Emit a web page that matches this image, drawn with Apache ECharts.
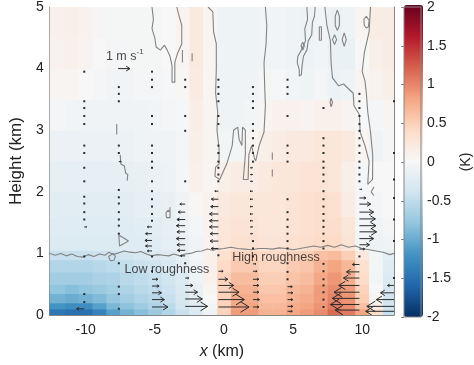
<!DOCTYPE html>
<html><head><meta charset="utf-8">
<script src="https://cdn.jsdelivr.net/npm/echarts@6/dist/echarts.min.js"></script>
<style>html,body{margin:0;padding:0;background:#fff}#c{width:474px;height:365px}</style>
</head><body><div id="c"></div>
<script>
// ---------- heat field (K): rows bottom->top, columns centred at x=-12..12 km ----------
const xEdges = [-12.6,-11.5,-10.5,-9.5,-8.5,-7.5,-6.5,-5.5,-4.5,-3.5,-2.5,-1.5,-0.5,0.5,1.5,2.5,3.5,4.5,5.5,6.5,7.5,8.5,9.5,10.5,11.5,12.3];
const yEdges = [0,0.1,0.2,0.35,0.5,0.7,0.9,1.05,1.3,1.6,2.0,2.5,3.0,3.5,4.0,4.5,5.0];
const tempRows = [
 [-1.45,-1.5,-1.5,-1.35,-1.1,-0.95,-0.85,-0.75,-0.6,-0.45,-0.3,-0.1,0.45,0.85,0.85,0.7,0.7,0.8,0.85,0.95,1.15,1.05,0.8,0.35,-0.45],
 [-1.2,-1.25,-1.25,-1.1,-0.92,-0.82,-0.72,-0.62,-0.52,-0.38,-0.24,-0.05,0.45,0.8,0.8,0.65,0.65,0.75,0.8,0.9,1.05,0.95,0.6,0.15,-0.4],
 [-0.95,-1.0,-0.95,-0.88,-0.78,-0.7,-0.62,-0.56,-0.46,-0.33,-0.18,0.0,0.45,0.75,0.75,0.6,0.6,0.7,0.75,0.85,1.0,0.9,0.5,0.05,-0.4],
 [-0.8,-0.85,-0.8,-0.75,-0.68,-0.62,-0.55,-0.5,-0.42,-0.3,-0.15,0.05,0.45,0.7,0.7,0.55,0.55,0.65,0.7,0.85,0.95,0.85,0.45,0.0,-0.35],
 [-0.7,-0.7,-0.7,-0.65,-0.62,-0.55,-0.5,-0.45,-0.38,-0.28,-0.1,0.1,0.45,0.62,0.62,0.5,0.5,0.58,0.62,0.78,0.88,0.72,0.38,-0.05,-0.3],
 [-0.6,-0.6,-0.6,-0.56,-0.52,-0.48,-0.44,-0.4,-0.32,-0.22,-0.08,0.1,0.4,0.52,0.52,0.44,0.44,0.52,0.56,0.7,0.8,0.66,0.32,-0.05,-0.25],
 [-0.45,-0.45,-0.45,-0.42,-0.42,-0.38,-0.34,-0.3,-0.26,-0.18,-0.05,0.1,0.32,0.45,0.45,0.4,0.4,0.45,0.5,0.6,0.64,0.5,0.22,-0.05,-0.2],
 [-0.28,-0.28,-0.28,-0.28,-0.28,-0.25,-0.25,-0.25,-0.2,-0.15,-0.08,0.08,0.25,0.32,0.32,0.28,0.28,0.32,0.36,0.4,0.4,0.28,-0.05,-0.12,-0.08],
 [-0.25,-0.25,-0.25,-0.25,-0.25,-0.25,-0.22,-0.22,-0.18,-0.12,-0.04,0.08,0.24,0.28,0.28,0.25,0.25,0.28,0.32,0.36,0.36,0.24,-0.04,-0.08,-0.04],
 [-0.22,-0.22,-0.22,-0.22,-0.22,-0.22,-0.18,-0.18,-0.16,-0.08,0.02,0.08,0.2,0.24,0.24,0.24,0.25,0.28,0.32,0.36,0.32,0.16,-0.04,-0.04,0.0],
 [-0.18,-0.18,-0.18,-0.18,-0.18,-0.18,-0.16,-0.13,-0.12,-0.04,0.1,0.04,0.12,0.16,0.16,0.2,0.24,0.24,0.28,0.28,0.24,0.12,-0.04,0.0,0.0],
 [-0.13,-0.13,-0.13,-0.13,-0.13,-0.13,-0.1,-0.08,-0.08,-0.04,0.12,0.04,-0.05,-0.05,0.04,0.12,0.16,0.2,0.2,0.24,0.24,0.2,0.04,-0.08,-0.04],
 [-0.04,-0.06,-0.08,-0.08,-0.08,-0.08,-0.08,-0.06,-0.04,-0.02,0.15,0.04,-0.08,-0.1,-0.05,0.04,0.08,0.08,0.06,0.1,0.1,0.06,0.0,-0.04,0.04],
 [0.05,0.05,0.0,-0.04,-0.06,-0.06,-0.04,-0.04,-0.02,0.02,0.18,0.04,-0.1,-0.1,-0.08,-0.03,-0.02,-0.06,-0.1,-0.04,-0.12,-0.1,0.04,0.08,0.12],
 [0.08,0.1,0.06,0.0,-0.04,-0.04,-0.03,-0.03,0.0,0.04,0.2,0.04,-0.1,-0.1,-0.1,-0.06,-0.06,-0.1,-0.12,-0.06,-0.14,-0.14,0.0,0.12,0.16],
 [0.1,0.12,0.08,0.03,-0.03,-0.04,-0.03,-0.03,0.0,0.06,0.2,0.04,-0.1,-0.1,-0.1,-0.06,-0.06,-0.1,-0.12,-0.06,-0.14,-0.1,0.04,0.16,0.16]
];

// ---------- wind profiles: column x (km) and [height km, u m/s] ----------
const colX = [-10.1,-7.6,-5.2,-2.8,-0.4,2.1,4.6,7.2,9.8,12.3];
const windCols = [
 [[3.95,0.1],[3.47,0.05],[3.36,0.15],[3.23,0.1],[3.1,0.05],[2.75,0.05],[2.63,0.05],[2.39,0.05],[2.17,0.05],[1.92,0.05],[1.81,0.05],[1.67,0.05],[1.55,0.05],[1.43,0.2],[0.95,0.05],[0.34,0.05],[0.21,0.05],[0.1,-0.65]],
 [[3.7,0.05],[3.59,0.05],[3.47,0.05],[2.75,0.05],[2.63,0.05],[2.49,0.2],[2.03,0.05],[1.91,0.05],[1.81,0.05],[1.67,0.05],[1.55,0.05],[1.45,0.1],[1.32,0.1],[0.84,0.05],[0.46,0.05],[0.34,0.05],[0.1,0.05]],
 [[3.95,0.05],[3.82,0.15],[3.7,0.05],[3.23,0.05],[3.1,0.05],[2.75,0.05],[2.63,0.1],[2.49,0.05],[2.39,0.05],[2.17,0.05],[2.01,0.05],[1.88,0.05],[1.76,0.05],[1.64,0.05],[1.53,0.05],[1.43,-0.4],[1.32,-0.55],[1.21,-0.6],[1.12,-0.55],[1.04,-0.4],[0.95,-0.1],[0.71,0.05],[0.58,0.5],[0.47,0.6],[0.36,0.8],[0.25,1.05],[0.13,1.35]],
 [[3.82,0.05],[3.7,0.15],[3.23,0.05],[2.99,0.05],[2.17,0.05],[1.8,-0.45],[1.67,-0.6],[1.55,-0.7],[1.45,-0.75],[1.35,-0.7],[1.24,-0.75],[1.14,-0.7],[1.05,-0.65],[0.96,-0.4],[0.84,0.05],[0.6,0.3],[0.48,0.65],[0.37,1.05],[0.26,1.45],[0.14,1.9]],
 [[3.82,0.05],[3.7,0.05],[3.59,0.05],[3.47,0.05],[3.23,0.1],[3.1,0.05],[2.75,0.05],[2.63,0.05],[2.49,0.05],[2.39,-0.1],[2.28,-0.1],[2.17,-0.15],[2.01,-0.3],[1.88,-0.6],[1.76,-0.65],[1.64,-0.75],[1.53,-0.75],[1.43,-0.75],[1.32,-0.7],[1.2,-0.7],[1.08,-0.6],[0.97,-0.1],[0.71,0.4],[0.58,0.8],[0.48,1.3],[0.37,1.75],[0.25,2.2],[0.13,2.6]],
 [[3.7,0.05],[3.59,0.05],[3.47,0.05],[3.36,0.05],[3.1,0.05],[2.99,-0.1],[2.87,-0.1],[2.75,-0.1],[2.63,-0.15],[2.49,-0.15],[2.39,-0.2],[2.28,-0.2],[2.17,-0.2],[2.01,-0.25],[1.88,-0.25],[1.76,-0.25],[1.64,-0.25],[1.53,-0.25],[1.43,-0.2],[1.32,-0.2],[1.2,-0.15],[1.08,-0.1],[0.95,0.05],[0.83,0.25],[0.71,0.35],[0.58,0.5],[0.48,0.5],[0.37,0.5],[0.25,0.55],[0.13,0.5]],
 [[3.82,0.1],[3.7,0.1],[3.59,0.1],[3.23,0.05],[2.75,0.1],[2.63,0.1],[2.49,0.1],[1.88,0.05],[1.67,0.05],[1.55,0.05],[1.43,0.05],[1.32,-0.1],[1.2,-0.15],[1.08,-0.1],[0.84,0.05],[0.7,0.05],[0.58,0.1],[0.46,0.4],[0.36,0.45],[0.25,0.45],[0.14,0.45],[0.06,0.4]],
 [[3.36,0.05],[2.87,0.05],[2.75,0.05],[2.63,0.05],[2.49,0.05],[2.39,0.05],[2.28,0.05],[2.17,0.05],[2.01,0.05],[1.88,0.05],[1.76,0.05],[1.64,-0.1],[1.53,-0.05],[1.43,-0.1],[1.32,0.05],[1.2,0.05],[1.08,0.05],[0.83,0.05],[0.71,0.05],[0.58,0.05],[0.48,0.05],[0.37,0.05],[0.25,0.05],[0.13,0.05]],
 [[3.59,0.05],[3.47,0.05],[3.36,0.05],[3.23,0.05],[3.1,0.1],[2.99,0.1],[2.87,0.1],[2.75,0.1],[2.63,0.1],[2.49,0.1],[2.39,0.1],[2.28,0.1],[2.17,0.1],[2.04,0.2],[1.9,0.55],[1.8,0.95],[1.67,1.2],[1.56,1.35],[1.45,1.4],[1.35,1.45],[1.24,1.2],[1.14,0.85],[1.07,0.45],[0.95,0.05],[0.82,-0.6],[0.7,-1.1],[0.6,-1.35],[0.48,-1.75],[0.37,-2.15],[0.27,-2.3],[0.17,-2.45],[0.08,-2.05]],
 [[3.47,0.05],[2.63,0.05],[2.2,0.05],[1.9,0.05],[1.55,0.05],[1.2,0.05],[0.6,-0.05],[0.48,-0.55],[0.36,-1.15],[0.25,-1.5],[0.14,-2.3],[0.06,-2.4]]
];
const keyArrow = [-7.65, 4.0, 1.0];   // 1 m s-1 reference arrow

// ---------- grey contour lines (x km, height km) ----------
const pblLine = [[-12.6,1.0],[-12.2,0.97],[-11.8,1.0],[-11.4,0.96],[-11.0,0.99],[-10.6,0.95],[-10.2,0.94],[-9.8,0.98],[-9.4,0.95],[-9.0,0.99],[-8.6,0.97],[-8.3,1.02],[-8.0,0.98],[-7.6,1.01],[-7.2,1.04],[-6.8,1.02],[-6.4,1.01],[-6.0,1.03],[-5.6,0.99],[-5.2,0.96],[-4.8,0.98],[-4.4,0.97],[-4.0,0.96],[-3.6,0.99],[-3.2,0.96],[-2.8,0.99],[-2.4,1.0],[-2.0,1.03],[-1.6,1.04],[-1.2,1.07],[-0.8,1.05],[-0.4,1.07],[0.0,1.08],[0.5,1.1],[1.0,1.08],[1.5,1.07],[2.0,1.06],[2.5,1.08],[3.0,1.08],[3.5,1.07],[4.0,1.09],[4.5,1.08],[5.0,1.06],[5.5,1.08],[6.0,1.1],[6.5,1.12],[7.0,1.1],[7.5,1.13],[8.0,1.1],[8.5,1.14],[9.0,1.1],[9.5,1.12],[10.0,1.08],[10.5,1.06],[11.0,1.04],[11.5,1.02],[12.0,0.98],[12.3,1.0]];
const loopA = [[-8.35,0.95],[-8.2,0.88],[-7.95,0.89],[-7.85,0.95],[-8.0,1.0],[-8.35,0.95]];
const triA = [[-7.6,1.3],[-7.55,1.12],[-6.9,1.2],[-7.6,1.3]];
const wigA = [[-7.5,2.6],[-7.45,2.45],[-7.2,2.42],[-7.1,2.3],[-6.95,2.28],[-7.0,2.18]];
const loopB = [[-3.9,1.75],[-3.9,1.58],[-4.15,1.58],[-4.2,1.66],[-4.05,1.7],[-3.9,1.68]];
const contour1 = [[-5.2,5.0],[-5.1,4.8],[-5.2,4.65],[-5.0,4.5],[-4.9,4.35],[-4.6,4.3],[-4.3,4.38],[-4.1,4.3],[-3.9,4.2],[-3.75,4.05],[-3.75,3.78],[-3.55,3.78],[-3.55,4.1],[-3.35,4.25],[-3.05,4.4],[-3.05,4.7],[-3.3,4.9],[-3.4,5.0]];
const contour2 = [[-1.15,5.0],[-0.8,4.92],[-0.75,4.6],[-0.55,4.4],[-0.55,4.0],[-0.6,3.6],[-0.45,3.3],[-0.5,3.0],[-0.35,2.7],[-0.35,2.45],[-0.6,2.4],[-0.65,2.25],[-0.3,2.2],[-0.1,2.3],[0.2,2.45],[0.4,2.6],[0.6,2.75],[0.7,3.0],[1.0,3.05],[1.1,2.85],[1.3,2.75],[1.35,3.05],[1.55,3.0],[1.55,2.6],[1.4,2.2],[1.75,2.2],[1.8,2.6],[2.0,2.75],[2.2,2.55],[2.3,2.5],[2.55,2.75],[2.9,2.97],[3.0,3.4],[2.95,3.7],[2.9,4.1],[3.05,4.4],[3.1,4.7],[3.0,5.0]];
const contour3 = [[6.0,5.0],[6.05,4.8],[5.85,4.65],[5.9,4.45],[5.6,4.3],[5.35,4.2],[5.3,4.1],[5.45,3.98],[5.45,3.88],[5.6,3.9],[5.65,4.04],[5.75,4.2],[6.0,4.3],[6.1,4.45],[6.35,4.55],[6.4,4.75],[6.55,4.85],[6.6,5.0]];
const contour4 = [[7.3,5.0],[7.45,4.7],[7.7,4.45],[7.75,4.1],[7.85,3.85],[8.3,3.72],[8.65,3.75],[9.35,3.6],[9.4,3.4],[9.8,3.25],[9.85,2.97],[10.2,2.75],[10.5,2.49],[10.4,2.12],[10.75,2.2],[10.76,2.6],[10.6,2.97],[10.4,3.3],[10.3,3.6],[10.2,3.8],[10.0,3.95],[10.15,4.25],[10.5,4.6],[10.6,5.0]];
const ovalA = [[8.2,4.95],[8.35,4.85],[8.35,4.7],[8.2,4.62],[8.05,4.7],[8.05,4.85],[8.2,4.95]];
const ovalB = [[8.0,4.55],[8.15,4.47],[8.0,4.39],[7.85,4.47],[8.0,4.55]];
const ovalC = [[8.7,4.58],[8.85,4.47],[8.7,4.36],[8.55,4.47],[8.7,4.58]];
const ovalD = [[10.3,4.85],[10.5,4.78],[10.45,4.68],[10.3,4.66],[10.15,4.7],[10.12,4.8],[10.3,4.85]];
const rectE = [[6.9,4.68],[7.05,4.68],[7.05,4.46],[6.9,4.46],[6.9,4.68]];
const ovalF = [[5.7,4.43],[5.82,4.37],[5.7,4.3],[5.58,4.37],[5.7,4.43]];
const ovalG = [[7.75,3.52],[7.85,3.45],[7.75,3.38],[7.68,3.45],[7.75,3.52]];
const triB = [[10.85,2.08],[10.65,2.0],[10.85,1.94]];
const segs = [[[-7.75,2.93],[-7.75,3.1]],[[-3.0,4.1],[-3.0,4.3]],[[-2.3,4.12],[-2.3,4.25]],[[3.5,2.52],[3.5,2.64]],[[3.5,2.25],[3.5,2.36]]];
const contourLines = [pblLine,loopA,triA,wigA,loopB,contour1,contour2,contour3,contour4,ovalA,ovalB,ovalC,ovalD,rectE,ovalF,ovalG,triB].concat(segs);

// ---------- labels ----------
const annotations = [
  {pos:[-7.17,4.2], text:'{a|1 m s}{s|-1}'},
  {pos:[-4.12,0.73], text:'{a|Low roughness}'},
  {pos:[3.76,0.93], text:'{a|High roughness}'}
];
const cbarTicks = {min:-2, max:2, step:0.5};
const rdbu = ['#053061','#2166ac','#4393c3','#92c5de','#d1e5f0','#f7f7f7','#fddbc7','#f4a582','#d6604d','#b2182b','#67001f'];

// ---------- build ----------
const cells = [];
tempRows.forEach((row, j) => row.forEach((v, i) => cells.push([xEdges[i], xEdges[i+1], yEdges[j], yEdges[j+1], v])));
const arrows = [];
windCols.forEach((col, k) => col.forEach(p => arrows.push([colX[k], p[0], p[1]])));
const ARROW_KM_PER_MS = 0.854;
const FONT = 'Liberation Sans, Arial, sans-serif';
const frameColor = '#858585';

function renderCell(params, api) {
  const a = api.coord([api.value(0), api.value(3)]);
  const b = api.coord([api.value(1), api.value(2)]);
  const r = echarts.graphic.clipRectByRect(
    {x: a[0], y: a[1], width: b[0]-a[0]+0.6, height: b[1]-a[1]+0.6},
    {x: params.coordSys.x, y: params.coordSys.y, width: params.coordSys.width, height: params.coordSys.height});
  return r && {type:'rect', shape:r, style:{fill: api.visual('color')}};
}
function renderArrow(params, api) {
  const x = api.value(0), h = api.value(1), u = api.value(2);
  const p0 = api.coord([x, h]);
  const p1 = api.coord([x + u*ARROW_KM_PER_MS, h]);
  const L = Math.abs(p1[0]-p0[0]);
  const col = '#2b2b2b';
  if (L < 2.2) {
    return {type:'rect', shape:{x:p0[0]-1, y:p0[1]-1, width:2, height:2}, style:{fill:col}};
  }
  const dir = u > 0 ? 1 : -1;
  const hl = Math.min(0.32*L, 8.5), hw = hl*0.62;
  const st = {stroke:col, lineWidth:1, fill:null};
  return {type:'group', children:[
    {type:'line', shape:{x1:p0[0], y1:p0[1], x2:p1[0], y2:p1[1]}, style:st},
    {type:'polyline', shape:{points:[[p1[0]-dir*hl, p1[1]-hw],[p1[0],p1[1]],[p1[0]-dir*hl, p1[1]+hw]]}, style:st}
  ]};
}

const chart = echarts.init(document.getElementById('c'), null, {renderer:'canvas'});
const series = [
  {type:'custom', xAxisIndex:0, yAxisIndex:0, data:cells, renderItem:renderCell, encode:{x:[0,1], y:[2,3]}, clip:true, silent:true, z:1},
];
contourLines.forEach(line => series.push({type:'line', xAxisIndex:0, yAxisIndex:0, data:line, symbol:'none', silent:true, clip:true,
  lineStyle:{color:'#838383', width:1.1}, z:3}));
series.push({type:'custom', xAxisIndex:0, yAxisIndex:0, data:arrows.concat([keyArrow]), renderItem:renderArrow, encode:{x:0, y:1}, clip:true, silent:true, z:5});
series.push({type:'scatter', xAxisIndex:0, yAxisIndex:0, symbolSize:0, silent:true, z:6,
  data: annotations.map(a => ({value:a.pos, label:{show:true, position:'inside', formatter:a.text}})),
  label:{show:true, rich:{a:{fontSize:12.5, fontFamily:FONT, color:'#1a1a1a'}, s:{fontSize:8, fontFamily:FONT, color:'#1a1a1a', padding:[0,0,8,0]}}}});

const option = {
  animation:false,
  textStyle:{fontFamily:FONT},
  grid:[
    {left:35, top:5, width:359, height:312, show:false},
    {left:404, top:5, width:19, height:312, show:true, borderColor:frameColor, borderWidth:1, backgroundColor:'transparent', z:10}
  ],
  xAxis:[
    {type:'value', gridIndex:0, min:-12.6, max:12.3, position:'bottom',
     axisLine:{show:true, onZero:false, lineStyle:{color:frameColor}}, axisTick:{inside:true, length:4, lineStyle:{color:frameColor}},
     splitLine:{show:false}, axisLabel:{fontSize:14, color:'#222', showMinLabel:false, showMaxLabel:false, margin:8},
     name:'{i|x} (km)', nameLocation:'middle', nameGap:29,
     nameTextStyle:{fontSize:16, color:'#222', rich:{i:{fontSize:16, fontStyle:'italic', color:'#222'}}}},
    {type:'value', gridIndex:0, min:-12.6, max:12.3, position:'top',
     axisLine:{show:true, onZero:false, lineStyle:{color:frameColor}}, axisTick:{inside:true, length:4, lineStyle:{color:frameColor}},
     splitLine:{show:false}, axisLabel:{show:false}},
    {type:'value', gridIndex:1, min:0, max:1, show:false}
  ],
  yAxis:[
    {type:'value', gridIndex:0, min:0, max:5, interval:1, position:'left',
     axisLine:{show:true, onZero:false, lineStyle:{color:frameColor}}, axisTick:{inside:true, length:4, lineStyle:{color:frameColor}},
     splitLine:{show:false}, axisLabel:{fontSize:14, color:'#222', margin:6},
     name:'Height (km)', nameLocation:'middle', nameGap:16, nameTextStyle:{fontSize:17, color:'#222'}},
    {type:'value', gridIndex:0, min:0, max:5, interval:1, position:'right',
     axisLine:{show:true, onZero:false, lineStyle:{color:frameColor}}, axisTick:{inside:true, length:4, lineStyle:{color:frameColor}},
     splitLine:{show:false}, axisLabel:{show:false}},
    {type:'value', gridIndex:1, min:cbarTicks.min, max:cbarTicks.max, interval:cbarTicks.step, position:'right',
     axisLine:{show:false}, axisTick:{show:true, inside:true, length:3, lineStyle:{color:frameColor}},
     splitLine:{show:false}, axisLabel:{fontSize:14, color:'#222', margin:6},
     name:'(K)', nameLocation:'middle', nameGap:38, nameRotate:90, nameTextStyle:{fontSize:14, color:'#222'}}
  ],
  visualMap:[{type:'continuous', seriesIndex:0, dimension:4, min:-2, max:2, calculable:false, realtime:false,
    inRange:{color:rdbu}, left:404, top:5, itemWidth:19, itemHeight:312, padding:0, text:null, hoverLink:false}],
  series: series
};
chart.setOption(option);
</script>
</body></html>
